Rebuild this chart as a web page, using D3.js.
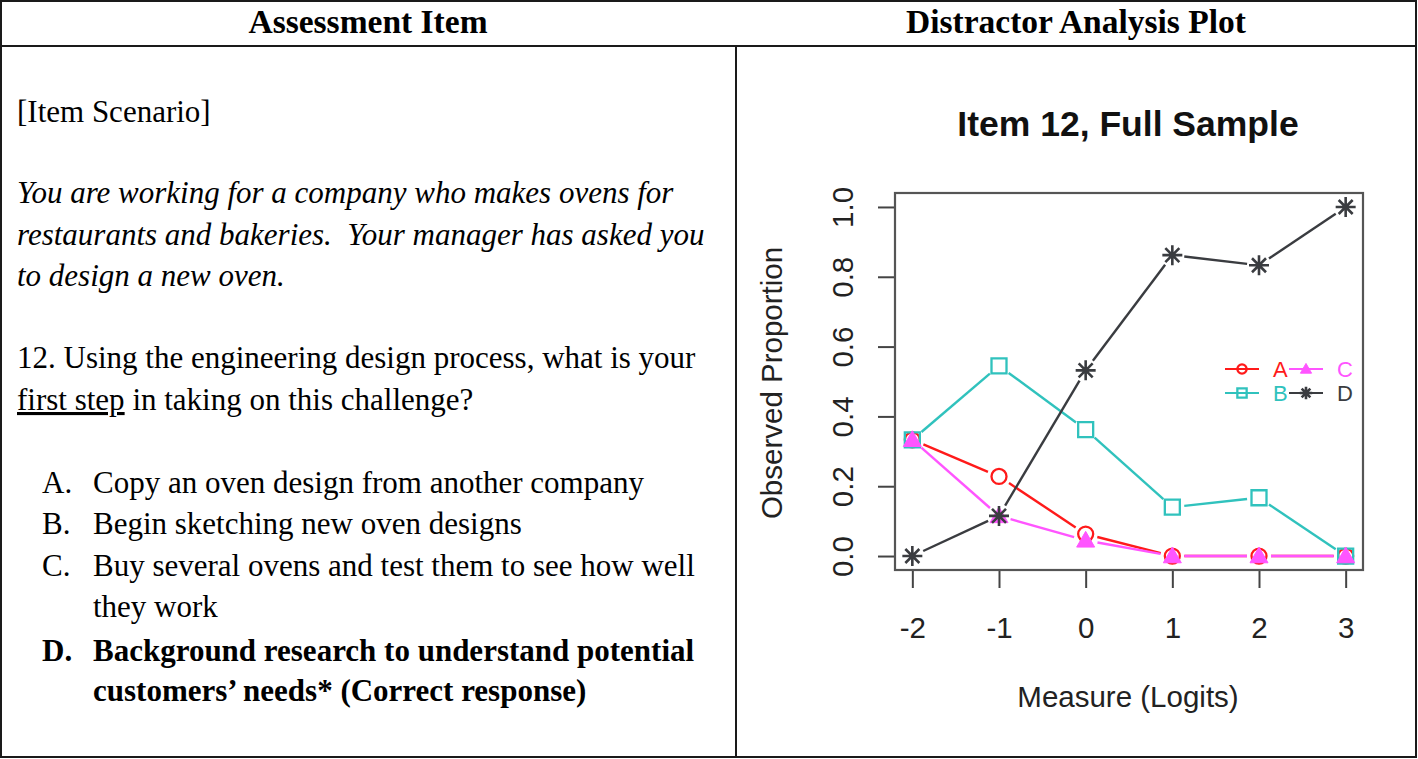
<!DOCTYPE html>
<html>
<head>
<meta charset="utf-8">
<script src="https://cdn.jsdelivr.net/npm/d3@7"></script>
<style>
  body { margin: 0; background: #fff; }
  text { white-space: pre; }
</style>
</head>
<body>
<svg id="page" width="1418" height="759"></svg>
<script>
// values
const measures = [-2, -1, 0, 1, 2, 3];
const propA = [0.333, 0.228, 0.063, 0, 0, 0];
const propB = [0.333, 0.545, 0.362, 0.14, 0.167, 0];
const propC = [0.333, 0.115, 0.045, 0, 0, 0];
const propD = [0, 0.115, 0.532, 0.862, 0.833, 1.0];
const yTicks = [0, 0.2, 0.4, 0.6, 0.8, 1.0];
const seriesNames = ["A", "B", "C", "D"];

// item text
const scenarioLines = [
  "You are working for a company who makes ovens for",
  "restaurants and bakeries.  Your manager has asked you",
  "to design a new oven."
];
const optionLetters = ["A.", "B.", "C.", "D."];
const optionLines = [
  ["Copy an oven design from another company"],
  ["Begin sketching new oven designs"],
  ["Buy several ovens and test them to see how well", "they work"],
  ["Background research to understand potential", "customers\u2019 needs* (Correct response)"]
];

const colours = { A: "#ff1a1a", B: "#30c2bd", C: "#ff55ff", D: "#3a3c40" };
const serif = "'Liberation Serif', 'Times New Roman', serif";
const sans = "'Liberation Sans', Arial, sans-serif";

const svg = d3.select("#page");

// ---- table frame ----
const frame = svg.append("g").attr("stroke", "#1a1a1a").attr("stroke-width", 2).attr("fill", "none");
frame.append("rect").attr("x", 1).attr("y", 1).attr("width", 1415).attr("height", 756);
frame.append("line").attr("x1", 1).attr("x2", 1416).attr("y1", 46).attr("y2", 46);
frame.append("line").attr("x1", 736).attr("x2", 736).attr("y1", 46).attr("y2", 757);

svg.append("text").attr("x", 368).attr("y", 33).attr("text-anchor", "middle")
  .attr("font-family", serif).attr("font-weight", "bold").attr("font-size", 33.5)
  .text("Assessment Item");
svg.append("text").attr("x", 1076).attr("y", 33).attr("text-anchor", "middle")
  .attr("font-family", serif).attr("font-weight", "bold").attr("font-size", 33.5)
  .text("Distractor Analysis Plot");

// ---- left column: item ----
const left = svg.append("g").attr("font-family", serif).attr("font-size", 31).attr("fill", "#000");

left.append("text").attr("x", 17).attr("y", 122).text("[Item Scenario]");

left.selectAll(".scen").data(scenarioLines).enter().append("text")
  .attr("class", "scen")
  .attr("x", 17).attr("y", (d, i) => 203 + i * 41.5)
  .attr("font-style", "italic")
  .text(d => d);

const q1 = left.append("text").attr("x", 17).attr("y", 368);
q1.text("12. Using the engineering design process, what is your");
const q2 = left.append("text").attr("x", 17).attr("y", 410);
q2.append("tspan").attr("text-decoration", "underline").text("first step");
q2.append("tspan").text(" in taking on this challenge?");

let lineY = 493;
optionLines.forEach((lines, i) => {
  const bold = i === 3;
  left.append("text").attr("x", 42).attr("y", lineY)
    .attr("font-weight", bold ? "bold" : null).text(optionLetters[i]);
  lines.forEach((ln, j) => {
    left.append("text").attr("x", 93).attr("y", lineY + j * (bold ? 40 : 41.3))
      .attr("font-weight", bold ? "bold" : null).text(ln);
  });
  lineY += lines.length * 41.3 + (i === 2 ? 3 : 0);
});

// ---- right column: plot ----
const x = d3.scaleLinear().domain([-2.2, 3.2]).range([895, 1363]);
const y = d3.scaleLinear().domain([-0.04, 1.04]).range([570, 193]);

const plot = svg.append("g");

plot.append("text").attr("x", 1128).attr("y", 136).attr("text-anchor", "middle")
  .attr("font-family", sans).attr("font-weight", "bold").attr("font-size", 35.5)
  .attr("fill", "#111").text("Item 12, Full Sample");

const xAxis = plot.append("g").attr("transform", "translate(0,570)")
  .call(d3.axisBottom(x).tickValues(measures).tickSize(18).tickPadding(29).tickFormat(d => String(d)));
xAxis.selectAll("text").attr("font-family", sans).attr("font-size", 29.5).attr("fill", "#222");

const yAxis = plot.append("g").attr("transform", "translate(895,0)")
  .call(d3.axisLeft(y).tickValues(yTicks).tickSize(17).tickFormat(d3.format(".1f")));
yAxis.selectAll("text")
  .attr("font-family", sans).attr("font-size", 29.5).attr("fill", "#222")
  .attr("x", null).attr("dy", "0.35em").attr("text-anchor", "middle")
  .attr("transform", "translate(-52,0) rotate(-90)");
[xAxis, yAxis].forEach(a => {
  a.select(".domain").remove();
  a.selectAll(".tick line").attr("stroke", "#444").attr("stroke-width", 2);
});

plot.append("rect").attr("x", 895).attr("y", 193).attr("width", 468).attr("height", 377)
  .attr("fill", "none").attr("stroke", "#555").attr("stroke-width", 2.2);

plot.append("text").attr("x", 1128).attr("y", 707).attr("text-anchor", "middle")
  .attr("font-family", sans).attr("font-size", 29.5).attr("fill", "#222")
  .text("Measure (Logits)");
plot.append("text").attr("transform", "translate(772,383) rotate(-90)")
  .attr("dy", "0.35em").attr("text-anchor", "middle")
  .attr("font-family", sans).attr("font-size", 29.5).attr("fill", "#222")
  .text("Observed Proportion");

// marker shapes, R pch 1, 0, 17, 8
function markerPath(name, s) {
  if (name === "A") {
    const r = 7.5 * s;
    return `M${-r},0a${r},${r} 0 1,0 ${2 * r},0a${r},${r} 0 1,0 ${-2 * r},0`;
  }
  if (name === "B") { const h = 7.5 * s; return `M${-h},${-h}H${h}V${h}H${-h}Z`; }
  if (name === "C") { const h = 9 * s; return `M0,${-h}L${h},${h * 0.75}H${-h}Z`; }
  const a = 10 * s, b = 7 * s;
  return `M${-a},0H${a}M0,${-a}V${a}M${-b},${-b}L${b},${b}M${-b},${b}L${b},${-b}`;
}

function drawMarker(g, name, s) {
  g.append("path").attr("d", markerPath(name, s))
    .attr("fill", name === "C" ? colours.C : "none")
    .attr("stroke", colours[name])
    .attr("stroke-width", name === "C" ? 1 : (name === "D" ? 2.6 : 2.3));
}

const series = [propA, propB, propC, propD];
const gap = 12;
series.forEach((vals, k) => {
  const name = seriesNames[k];
  const g = plot.append("g");
  const pts = measures.map((m, i) => [x(m), y(vals[i])]);
  // type = "b": segments stop short of the points
  d3.pairs(pts).forEach(([p, q]) => {
    const dx = q[0] - p[0], dy = q[1] - p[1];
    const len = Math.hypot(dx, dy);
    if (len <= 2 * gap) return;
    const ux = dx / len, uy = dy / len;
    g.append("line")
      .attr("x1", p[0] + ux * gap).attr("y1", p[1] + uy * gap)
      .attr("x2", q[0] - ux * gap).attr("y2", q[1] - uy * gap)
      .attr("stroke", colours[name]).attr("stroke-width", 2.4);
  });
  pts.forEach(p => {
    const mg = g.append("g").attr("transform", `translate(${p[0]},${p[1]})`);
    drawMarker(mg, name, 1);
  });
});

// legend, two columns
const legend = plot.append("g").attr("font-family", sans).attr("font-size", 22);
seriesNames.forEach((name, i) => {
  const col = Math.floor(i / 2), row = i % 2;
  const lx = 1225 + col * 64, ly = 369 + row * 24;
  const lg = legend.append("g").attr("transform", `translate(${lx},${ly})`);
  lg.append("line").attr("x1", 0).attr("x2", 34).attr("stroke", colours[name]).attr("stroke-width", 2.2);
  const mg = lg.append("g").attr("transform", "translate(17,0)");
  drawMarker(mg, name, 0.62);
  lg.append("text").attr("x", 48).attr("dy", "0.36em").attr("fill", colours[name]).text(name);
});
</script>
</body>
</html>
